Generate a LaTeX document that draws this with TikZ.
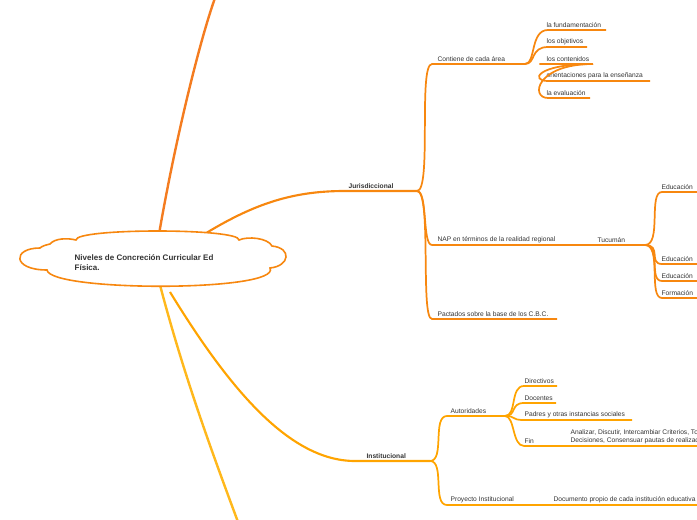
\documentclass[tikz,border=0pt]{standalone}
\usepackage{fontspec}
\setmainfont{Liberation Sans}
\definecolor{oJ}{HTML}{F7870F}
\definecolor{oI}{HTML}{FFA400}
\definecolor{oT}{HTML}{F47C20}
\definecolor{oB}{HTML}{FFB81C}
\definecolor{tx}{HTML}{333333}
\begin{document}
\begin{tikzpicture}[x=0.75pt,y=-0.75pt,
  lbl/.style={anchor=south west,inner sep=1pt,font=\fontsize{5}{6}\selectfont,text=tx},
  br/.style={line width=1.3pt}]
\useasboundingbox (0,0) rectangle (697,520);
\clip (0,0) rectangle (697,520);
% main branches
\coordinate (topEnd) at (215,-2);
\coordinate (botEnd) at (238,522);
\draw[oT,line width=1.8pt] (158,240) .. controls (175,140) and (200,40) .. (topEnd);
\draw[oB,line width=1.8pt] (160,285) .. controls (185,380) and (215,460) .. (botEnd);
% Jurisdiccional
\coordinate (jL) at (345,191); \coordinate (jR) at (417,191);
\draw[oJ,line width=1.6pt] (195,240) .. controls (250,205) and (290,191) .. (jL) -- (jR);
\node[lbl,font=\fontsize{5}{6}\selectfont\bfseries] (jur) at (347,190) {Jurisdiccional};
% Contiene
\coordinate (cL) at (432,64); \coordinate (cR) at (525,64);
\draw[oJ,br] (jR) .. controls (432,191) and (418,64) .. (cL) -- (cR);
\node[lbl] (cont) at (436,63) {Contiene de cada área};
\foreach \n/\y/\e/\t in {f/30/606/la fundamentación,o/47/587/los objetivos,c/64/593/los contenidos,r/81/650/orientaciones para la enseñanza,e/98/590/la evaluación}{
  \coordinate (\n L) at (548,\y); \coordinate (\n R) at (\e,\y);
  \draw[oJ,br] (cR) .. controls (536,64) and (530,\y) .. (\n L) -- (\n R);
  \node[lbl] (\n t) at (545,\y-1) {\t};
}
% NAP
\coordinate (nL) at (432,245); \coordinate (nR) at (645,245);
\draw[oJ,br] (jR) .. controls (428,191) and (422,245) .. (nL) -- (nR);
\node[lbl] (nap) at (436,244) {NAP en términos de la realidad regional};
\node[lbl] (tuc) at (596,244) {Tucumán};
\foreach \n/\y/\t in {a/192/Educación,b/264/Educación,d/281/Educación,g/298/Formación}{
  \coordinate (\n L) at (662,\y); \coordinate (\n R) at (700,\y);
  \draw[oJ,br] (nR) .. controls (662,245) and (648,\y) .. (\n L) -- (\n R);
  \node[lbl] (\n t) at (660,\y-1) {\t};
}
% Pactados
\coordinate (pL) at (432,319); \coordinate (pR) at (557,319);
\draw[oJ,br] (jR) .. controls (432,191) and (420,319) .. (pL) -- (pR);
\node[lbl] (pac) at (436,318) {Pactados sobre la base de los C.B.C.};
% Institucional
\coordinate (iL) at (355,461); \coordinate (iR) at (430,461);
\draw[oI,line width=1.6pt] (170,292) .. controls (230,390) and (290,461) .. (iL) -- (iR);
\node[lbl,font=\fontsize{5}{6}\selectfont\bfseries] (inst) at (365,460) {Institucional};
% Autoridades
\coordinate (aL) at (447,416); \coordinate (aR) at (505,416);
\draw[oI,br] (iR) .. controls (445,461) and (432,416) .. (aL) -- (aR);
\node[lbl] (aut) at (449,415) {Autoridades};
\foreach \n/\y/\e/\t in {di/386/557/Directivos,do/403/556/Docentes,pa/420/632/Padres y otras instancias sociales}{
  \coordinate (\n L) at (524,\y); \coordinate (\n R) at (\e,\y);
  \draw[oI,br] (aR) .. controls (517,416) and (510,\y) .. (\n L) -- (\n R);
  \node[lbl] (\n t) at (523,\y-1) {\t};
}
\coordinate (fiL) at (524,446); \coordinate (fiR) at (700,446);
\draw[oI,br] (aR) .. controls (515,416) and (512,446) .. (fiL) -- (fiR);
\node[lbl] (fin) at (523,445) {Fin};
\node[lbl,align=left] (fint) at (569,445) {Analizar, Discutir, Intercambiar Criterios, Tomar\\Decisiones, Consensuar pautas de realización};
% Proyecto
\coordinate (prL) at (447,505); \coordinate (prR) at (700,505);
\draw[oI,br] (iR) .. controls (445,461) and (432,505) .. (prL) -- (prR);
\node[lbl] (proy) at (449,504) {Proyecto Institucional};
\node[lbl] (doc) at (552,504) {Documento propio de cada institución educativa};
% cloud
\draw[oJ,fill=white,line width=1.2pt]
  (50,244) .. controls (55,238) and (68,238) .. (76,240)
  .. controls (75,228) and (240,228) .. (239,240)
  .. controls (248,236) and (268,238) .. (272,246)
  .. controls (292,248) and (290,266) .. (270,268)
  .. controls (282,292) and (50,292) .. (47,270)
  .. controls (12,270) and (12,248) .. (40,248)
  .. controls (42,246) and (46,245) .. cycle;
\node[anchor=west,align=left,font=\fontsize{6}{7.5}\selectfont\bfseries,text=tx] (root) at (70,263)
  {Niveles de Concreción Curricular Ed\\Física.};
\end{tikzpicture}
\end{document}
